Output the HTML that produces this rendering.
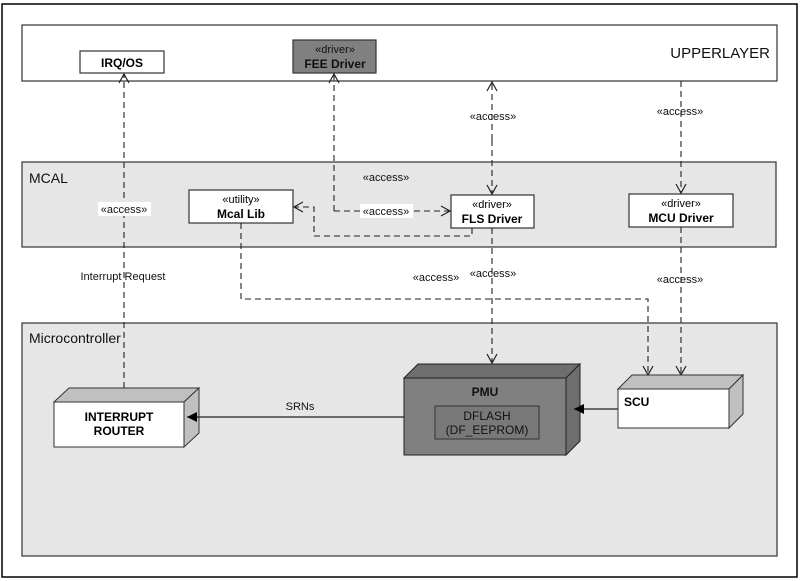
<!DOCTYPE html>
<html><head><meta charset="utf-8"><style>
html,body{margin:0;padding:0;background:#fff;}
svg{display:block;font-family:"Liberation Sans",sans-serif;}
</style></head><body>
<svg width="803" height="581" viewBox="0 0 803 581">
<defs>
<marker id="oa" markerWidth="12" markerHeight="12" refX="10" refY="6" orient="auto" markerUnits="userSpaceOnUse">
<path d="M1,1 L10,6 L1,11" fill="none" stroke="#222" stroke-width="1.2"/></marker>
<marker id="fa" markerWidth="12" markerHeight="10" refX="10" refY="5" orient="auto" markerUnits="userSpaceOnUse">
<path d="M0,0 L10,5 L0,10 z" fill="#000"/></marker>
</defs>
<rect x="2" y="4" width="795" height="573" fill="#fff" stroke="#000" stroke-width="1.5"/>
<!-- layers -->
<rect x="22" y="25" width="755" height="56" fill="#fff" stroke="#333" stroke-width="1.2"/>
<text x="770" y="58" font-size="15" text-anchor="end" fill="#111">UPPERLAYER</text>
<rect x="22" y="162" width="754" height="85" fill="#e6e6e6" stroke="#333" stroke-width="1.2"/>
<text x="29" y="183" font-size="14" fill="#111">MCAL</text>
<rect x="22" y="323" width="755" height="233" fill="#e6e6e6" stroke="#333" stroke-width="1.2"/>
<text x="29" y="343" font-size="14" fill="#111">Microcontroller</text>

<!-- upper boxes -->
<rect x="80" y="51" width="84" height="22" fill="#fff" stroke="#333" stroke-width="1.2"/>
<text x="122" y="67" font-size="12" font-weight="bold" text-anchor="middle">IRQ/OS</text>
<rect x="293" y="40" width="83" height="33" fill="#808080" stroke="#333" stroke-width="1.2"/>
<text x="335" y="53" font-size="11" text-anchor="middle" fill="#111">«driver»</text>
<text x="335" y="68" font-size="12" font-weight="bold" text-anchor="middle" fill="#111">FEE Driver</text>

<!-- MCAL boxes -->
<rect x="189" y="190" width="104" height="33" fill="#fff" stroke="#333" stroke-width="1.2"/>
<text x="241" y="203" font-size="11" text-anchor="middle">«utility»</text>
<text x="241" y="218" font-size="12" font-weight="bold" text-anchor="middle">Mcal Lib</text>
<rect x="451" y="195" width="83" height="33" fill="#fff" stroke="#333" stroke-width="1.2"/>
<text x="492" y="208" font-size="11" text-anchor="middle">«driver»</text>
<text x="492" y="223" font-size="12" font-weight="bold" text-anchor="middle">FLS Driver</text>
<rect x="629" y="194" width="104" height="33" fill="#fff" stroke="#333" stroke-width="1.2"/>
<text x="681" y="207" font-size="11" text-anchor="middle">«driver»</text>
<text x="681" y="222" font-size="12" font-weight="bold" text-anchor="middle">MCU Driver</text>

<!-- connectors -->
<g fill="none" stroke="#222" stroke-width="1.1" stroke-dasharray="6,4">
<path d="M124,388 L124,74" marker-end="url(#oa)"/>
<path d="M334,211 L334,74" marker-end="url(#oa)"/>
<path d="M334,211 L450,211" marker-end="url(#oa)"/>
<path d="M472,228 L472,236 L314,236 L314,207 L294,207" marker-end="url(#oa)"/>
<path d="M492,140 L492,82" marker-end="url(#oa)"/>
<path d="M492,140 L492,194" marker-end="url(#oa)"/>
<path d="M681,81 L681,193" marker-end="url(#oa)"/>
<path d="M492,228 L492,363" marker-end="url(#oa)"/>
<path d="M241,223 L241,299 L648,299 L648,375" marker-end="url(#oa)"/>
<path d="M681,227 L681,375" marker-end="url(#oa)"/>
</g>
<g font-size="11" fill="#111" text-anchor="middle">
<rect x="98" y="202" width="53" height="14" fill="#fff"/>
<text x="124" y="213">«access»</text>
<rect x="360" y="204" width="53" height="14" fill="#fff"/>
<text x="386" y="215">«access»</text>
<text x="386" y="181">«access»</text>
<text x="493" y="120">«access»</text>
<text x="680" y="115">«access»</text>
<text x="493" y="277">«access»</text>
<text x="436" y="281">«access»</text>
<text x="680" y="283">«access»</text>
<text x="123" y="280">Interrupt Request</text>
<text x="300" y="410">SRNs</text>
</g>

<!-- INTERRUPT ROUTER -->
<polygon points="54,402 69,388 199,388 184,402" fill="#c0c0c0" stroke="#333" stroke-width="1"/>
<polygon points="184,402 199,388 199,433 184,447" fill="#c0c0c0" stroke="#333" stroke-width="1"/>
<rect x="54" y="402" width="130" height="45" fill="#fff" stroke="#333" stroke-width="1"/>
<text x="119" y="421" font-size="12" font-weight="bold" text-anchor="middle">INTERRUPT</text>
<text x="119" y="435" font-size="12" font-weight="bold" text-anchor="middle">ROUTER</text>

<!-- PMU -->
<polygon points="404,378 418,364 580,364 566,378" fill="#6e6e6e" stroke="#222" stroke-width="1"/>
<polygon points="566,378 580,364 580,441 566,455" fill="#6e6e6e" stroke="#222" stroke-width="1"/>
<rect x="404" y="378" width="162" height="77" fill="#808080" stroke="#222" stroke-width="1"/>
<text x="485" y="396" font-size="12" font-weight="bold" text-anchor="middle" fill="#111">PMU</text>
<rect x="435" y="406" width="104" height="33" fill="#797979" stroke="#333" stroke-width="1"/>
<text x="487" y="420" font-size="12" text-anchor="middle" fill="#111">DFLASH</text>
<text x="487" y="434" font-size="12" text-anchor="middle" fill="#111">(DF_EEPROM)</text>

<!-- SCU -->
<polygon points="618,389 632,375 743,375 729,389" fill="#c0c0c0" stroke="#333" stroke-width="1"/>
<polygon points="729,389 743,375 743,414 729,428" fill="#c0c0c0" stroke="#333" stroke-width="1"/>
<rect x="618" y="389" width="111" height="39" fill="#fff" stroke="#333" stroke-width="1"/>
<text x="624" y="406" font-size="12" font-weight="bold">SCU</text>

<!-- solid arrows -->
<path d="M404,417 L187,417" stroke="#222" stroke-width="1.2" marker-end="url(#fa)"/>
<path d="M618,409 L574,409" stroke="#222" stroke-width="1.2" marker-end="url(#fa)"/>
</svg>
</body></html>
